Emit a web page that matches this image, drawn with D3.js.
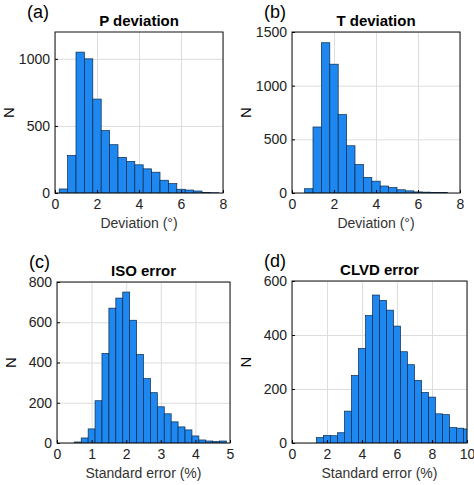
<!DOCTYPE html>
<html><head><meta charset="utf-8">
<script src="https://cdn.jsdelivr.net/npm/d3@7"></script>
<style>body{margin:0;background:#fff}svg{font-family:"Liberation Sans",Arial,sans-serif}</style>
</head><body><svg id="c" width="474" height="485"></svg>
<script>
const pStart=0.2, pWidth=0.4;
const pCounts=[30,280,1050,1000,700,465,360,265,235,210,180,155,95,70,28,22,15,3,2];
const tStart=0.6, tWidth=0.4;
const tCounts=[40,615,1400,1200,730,440,265,145,110,65,50,30,20,10,8,5,5];
const isoStart=0.5, isoWidth=0.2;
const isoCounts=[5,25,70,210,445,670,720,750,610,440,320,250,180,145,105,80,65,35,15,10,8,10];
const clvdStart=1.4, clvdWidth=0.4;
const clvdCounts=[20,28,27,38,118,250,350,472,548,528,492,433,338,290,232,187,170,108,105,57,55,52];

const panels=[
 {lab:"(a)",title:"P deviation",xl:"Deviation (°)",start:pStart,w:pWidth,c:pCounts,xd:[0,8],xt:[0,2,4,6,8],yd:[0,1200],yt:[0,500,1000],box:[55,32,223,193]},
 {lab:"(b)",title:"T deviation",xl:"Deviation (°)",start:tStart,w:tWidth,c:tCounts,xd:[0,8],xt:[0,2,4,6,8],yd:[0,1500],yt:[0,500,1000,1500],box:[292,32,460,193]},
 {lab:"(c)",title:"ISO error",xl:"Standard error (%)",start:isoStart,w:isoWidth,c:isoCounts,xd:[0,5],xt:[0,1,2,3,4,5],yd:[0,800],yt:[0,200,400,600,800],box:[57,282,230,443]},
 {lab:"(d)",title:"CLVD error",xl:"Standard error (%)",start:clvdStart,w:clvdWidth,c:clvdCounts,xd:[0,10],xt:[0,2,4,6,8,10],yd:[0,600],yt:[0,200,400,600],box:[292,281,467,443]}
];
const svg=d3.select("#c");
panels.forEach((p,i)=>{
 const [x0,y0,x1,y1]=p.box;
 const x=d3.scaleLinear().domain(p.xd).range([x0,x1]);
 const y=d3.scaleLinear().domain(p.yd).range([y1,y0]);
 const g=svg.append("g");
 const cid="clip"+i;
 g.append("clipPath").attr("id",cid).append("rect").attr("x",x0).attr("y",y0).attr("width",x1-x0).attr("height",y1-y0);
 // grid
 g.append("g").attr("transform",`translate(0,${y1})`).call(d3.axisBottom(x).tickValues(p.xt).tickSize(-(y1-y0)).tickFormat(""))
  .call(a=>{a.select(".domain").remove();a.selectAll("line").attr("stroke","#ddd");});
 g.append("g").attr("transform",`translate(${x0},0)`).call(d3.axisLeft(y).tickValues(p.yt).tickSize(-(x1-x0)).tickFormat(""))
  .call(a=>{a.select(".domain").remove();a.selectAll("line").attr("stroke","#ddd");});
 const bins=p.c.map((v,k)=>({a:p.start+k*p.w,b:p.start+(k+1)*p.w,v}));
 g.append("g").attr("clip-path",`url(#${cid})`).selectAll("rect").data(bins).join("rect")
  .attr("x",d=>x(d.a)).attr("width",d=>x(d.b)-x(d.a)).attr("y",d=>y(d.v)).attr("height",d=>y(0)-y(d.v))
  .attr("fill","#1e88f0").attr("stroke","#0a2a4a").attr("stroke-width",0.7);
 // axes with inward ticks
 const ax=g.append("g").attr("transform",`translate(0,${y1})`).call(d3.axisBottom(x).tickValues(p.xt).tickSize(-3).tickPadding(6).tickFormat(d3.format("d")));
 const ay=g.append("g").attr("transform",`translate(${x0},0)`).call(d3.axisLeft(y).tickValues(p.yt).tickSize(-3).tickPadding(5).tickFormat(d3.format("d")));
 [ax,ay].forEach(a=>{a.selectAll("text").attr("font-size",14).attr("fill","#222").attr("font-family","Liberation Sans, Arial");a.select(".domain").remove();});
 g.append("rect").attr("x",x0).attr("y",y0).attr("width",x1-x0).attr("height",y1-y0).attr("fill","none").attr("stroke","#111").attr("stroke-width",1);
 g.append("text").attr("x",(x0+x1)/2).attr("y",y0-6).attr("text-anchor","middle").attr("font-weight","bold").attr("font-size",15).text(p.title);
 g.append("text").attr("x",(x0+x1)/2).attr("y",y1+35).attr("text-anchor","middle").attr("font-size",14).attr("fill","#333").text(p.xl);
 g.append("text").attr("transform",`translate(${x0-41},${(y0+y1)/2}) rotate(-90)`).attr("text-anchor","middle").attr("font-size",15).text("N");
 g.append("text").attr("x",x0-28).attr("y",y0-14).attr("font-size",18).text(p.lab);
});
</script></body></html>
